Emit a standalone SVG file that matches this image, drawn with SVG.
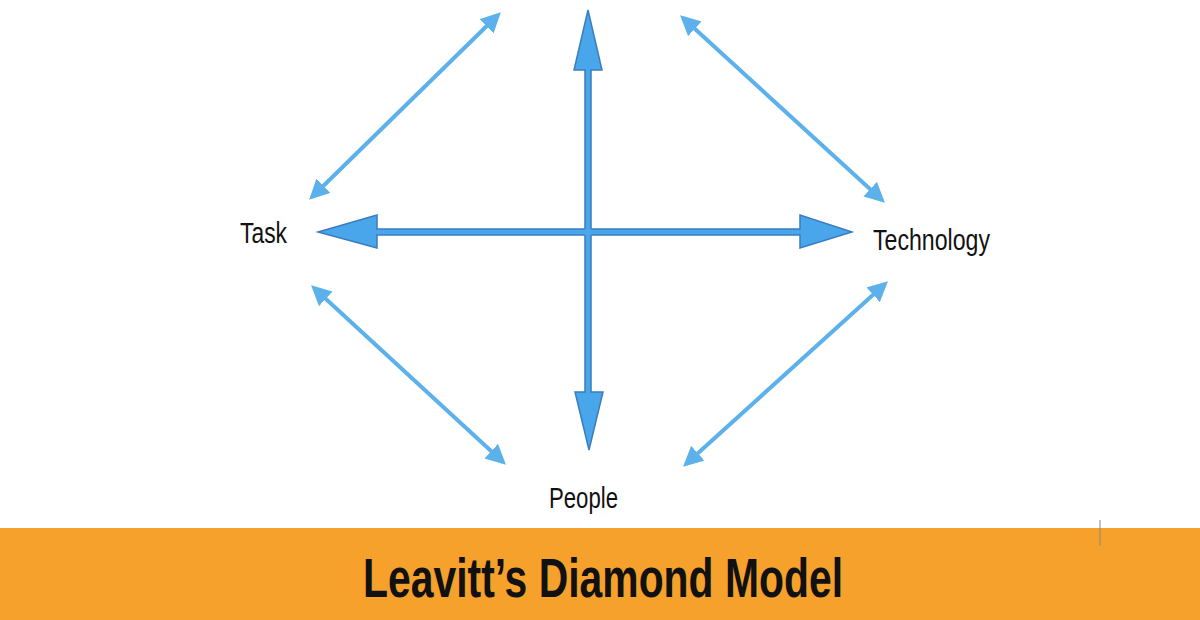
<svg xmlns="http://www.w3.org/2000/svg" width="1200" height="620" viewBox="0 0 1200 620">
<style>
.lbl{font-family:"Liberation Sans",Arial,sans-serif;font-size:30px;fill:#111}
.title{font-family:"Liberation Sans",Arial,sans-serif;font-size:56px;font-weight:bold;fill:#111}
.main{fill:#4aa6ea;stroke:#3a7dbf;stroke-width:1.5;stroke-linejoin:miter}
.diag{stroke:#5cb1eb;stroke-width:4;fill:none;marker-start:url(#ah);marker-end:url(#ah)}
</style>
<defs>
<marker id="ah" viewBox="0 0 10 10" refX="8" refY="5" markerWidth="5" markerHeight="5" orient="auto-start-reverse" markerUnits="strokeWidth">
<path d="M0,0 L10,5 L0,10 Z" fill="#5cb1eb"/>
</marker>
</defs>
<rect width="1200" height="620" fill="#ffffff"/>
<g id="connectors">
<line class="diag" x1="312" y1="197" x2="498" y2="15"/>
<line class="diag" x1="683" y1="18" x2="882" y2="200"/>
<line class="diag" x1="314" y1="288" x2="503" y2="462"/>
<line class="diag" x1="686" y1="464" x2="885" y2="284"/>
<g id="cross">
<path class="main" d="M585,70 L574,70 L588,10 L602,70 L591,70 L591,229 L800,229 L800,215 L852,232 L800,248 L800,235 L591,235 L591,392 L603,392 L589,450 L575,392 L585,392 L585,235 L377,235 L377,248 L318,232 L377,215 L377,229 L585,229 Z"/>
<circle cx="588" cy="232" r="4" fill="#4aa6ea"/>
</g>
</g>
<g id="node-task"><text class="lbl" x="240" y="243" textLength="47" lengthAdjust="spacingAndGlyphs">Task</text></g>
<g id="node-technology"><text class="lbl" x="873" y="250" textLength="117" lengthAdjust="spacingAndGlyphs">Technology</text></g>
<g id="node-people"><text class="lbl" x="549" y="508" textLength="69" lengthAdjust="spacingAndGlyphs">People</text></g>
<g id="banner">
<rect x="0" y="528" width="1200" height="92" fill="#f5a12b"/>
<line x1="1100" y1="520" x2="1100" y2="546" stroke="#8a8a8a" stroke-width="1"/>
<text class="title" x="363" y="597" textLength="480" lengthAdjust="spacingAndGlyphs">Leavitt’s Diamond Model</text>
</g>
</svg>
